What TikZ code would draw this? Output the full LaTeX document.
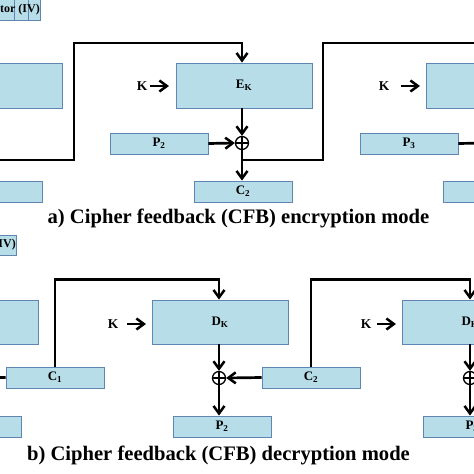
\documentclass[tikz,border=0pt]{standalone}
\usepackage{fontspec}
\setmainfont{Liberation Serif}
\usetikzlibrary{arrows.meta}
\definecolor{boxfill}{HTML}{B7DDE8}
\definecolor{boxline}{HTML}{5F86B0}
\tikzset{
  blk/.style={draw=boxline, fill=boxfill, line width=0.9pt, inner sep=0pt, font=\bfseries\fontsize{13}{13}\selectfont},
  bigblk/.style={blk, minimum width=136pt, minimum height=45pt},
  smallblk/.style={blk, minimum width=98pt, minimum height=21pt},
  wire/.style={line width=2.7pt, line join=miter},
  arr/.style={wire, -{Straight Barb[length=7.5pt,width=11pt,line width=2.5pt]}},
  xorc/.style={circle, draw, line width=1.3pt, minimum size=13pt, inner sep=0pt,
    path picture={\draw[line width=1.1pt] (path picture bounding box.north) -- (path picture bounding box.south)
      (path picture bounding box.west) -- (path picture bounding box.east);}},
  klab/.style={font=\bfseries\fontsize{13.5}{13.5}\selectfont, inner sep=0pt},
  captext/.style={font=\bfseries\fontsize{20.6}{21}\selectfont, inner sep=0pt},
}
\begin{document}
\begin{tikzpicture}[x=1pt,y=-1pt]
\useasboundingbox (0,0) rectangle (474,474);
\clip (0,0) rectangle (474,474);
\fill[white] (0,0) rectangle (474,474);

% ---------- a) encryption ----------
\node[blk, minimum width=60pt, minimum height=21pt, anchor=north east] (iva) at (41,-1) {};
\draw[boxline, line width=0.6pt] (14,0) -- (14,20) (28,0) -- (28,20);
\node[font=\bfseries\fontsize{12}{12}\selectfont, inner sep=0pt, anchor=east] (ivatext) at (40,10) {tor (IV)};

\node[bigblk] (e1) at (-6,85.5) {};
\node[bigblk] (e2) at (244,85.5) {E\textsubscript{K}};
\node[bigblk] (e3) at (494,85.5) {};

\node[smallblk] (p1) at (-91,143.5) {};
\node[smallblk] (p2) at (159,143.5) {P\textsubscript{2}};
\node[smallblk] (p3) at (409,143.5) {P\textsubscript{3}};

\node[smallblk] (c1) at (-7,191.5) {};
\node[smallblk] (c2) at (243,191.5) {C\textsubscript{2}};
\node[smallblk] (c3) at (492,191.5) {};

\node[xorc] (x2) at (242,143) {};
\node[xorc] (x3) at (492,143) {};

\node[klab] (k2) at (142,86) {K};
\node[klab] (k3) at (384,86) {K};
\coordinate (k2s) at (150,86);
\coordinate (k2e) at (169,86);
\coordinate (k3s) at (401,86);
\coordinate (k3e) at (420,86);
\draw[arr] (k2s) -- (k2e);
\draw[arr] (k3s) -- (k3e);

\coordinate (j1) at (-10,160);
\coordinate (u1) at (74,43);
\coordinate (j2) at (242,160);
\coordinate (u2) at (323,43);
\draw[arr] (j1) -| (u1) -| (x2 |- e2.north);
\draw[arr] (j2) -| (u2) -| (x3 |- e3.north);

\draw[arr] (x2 |- e2.south) -- (x2.north);
\draw[arr] (p2.east) -- (x2.west);
\draw[arr] (x2.south) -- (x2 |- c2.north);
\draw[arr] (p3.east) -- (x3.west);

\node[captext] (capa) at (238.5,218) {a) Cipher feedback (CFB) encryption mode};

% ---------- b) decryption ----------
\node[blk, minimum width=40pt, minimum height=20pt, anchor=north east] (ivb) at (17,235) {};
\node[font=\bfseries\fontsize{12}{12}\selectfont, inner sep=0pt, anchor=east] (ivbtext) at (16,245) {IV)};

\node[bigblk, minimum height=44pt] (d1) at (-30,322) {};
\node[bigblk, minimum height=44pt] (d2) at (220,322) {D\textsubscript{K}};
\node[bigblk, minimum height=44pt] (d3) at (470,322) {D\textsubscript{K}};

\node[smallblk] (cb1) at (55,377.5) {C\textsubscript{1}};
\node[smallblk] (cb2) at (311,377.5) {C\textsubscript{2}};

\node[smallblk] (pb1) at (-28,426.5) {};
\node[smallblk] (pb2) at (222,426.5) {P\textsubscript{2}};
\node[smallblk] (pb3) at (472,426.5) {P\textsubscript{3}};

\node[xorc] (xb1) at (-31,378) {};
\node[xorc] (xb2) at (219,378) {};
\node[xorc] (xb3) at (470,378) {};

\node[klab] (kb2) at (113,324) {K};
\node[klab] (kb3) at (366,324) {K};
\coordinate (kb2s) at (127,324);
\coordinate (kb2e) at (146,324);
\coordinate (kb3s) at (377,324);
\coordinate (kb3e) at (396,324);
\draw[arr] (kb2s) -- (kb2e);
\draw[arr] (kb3s) -- (kb3e);

\coordinate (fb1) at (219,279.5);
\coordinate (fb2) at (470,279.5);
\draw[arr] (cb1.north) |- (fb1) -- (xb2 |- d2.north);
\draw[arr] (cb2.north) |- (fb2) -- (xb3 |- d3.north);

\draw[arr] (cb1.west) -- (xb1.east);
\draw[arr] (cb2.west) -- (xb2.east);
\draw[arr] (xb2 |- d2.south) -- (xb2.north);
\draw[arr] (xb3 |- d3.south) -- (xb3.north);
\draw[arr] (xb2.south) -- (xb2 |- pb2.north);
\draw[arr] (xb3.south) -- (xb3 |- pb3.north);

\node[captext] (capb) at (218.5,455) {b) Cipher feedback (CFB) decryption mode};
\end{tikzpicture}
\end{document}
